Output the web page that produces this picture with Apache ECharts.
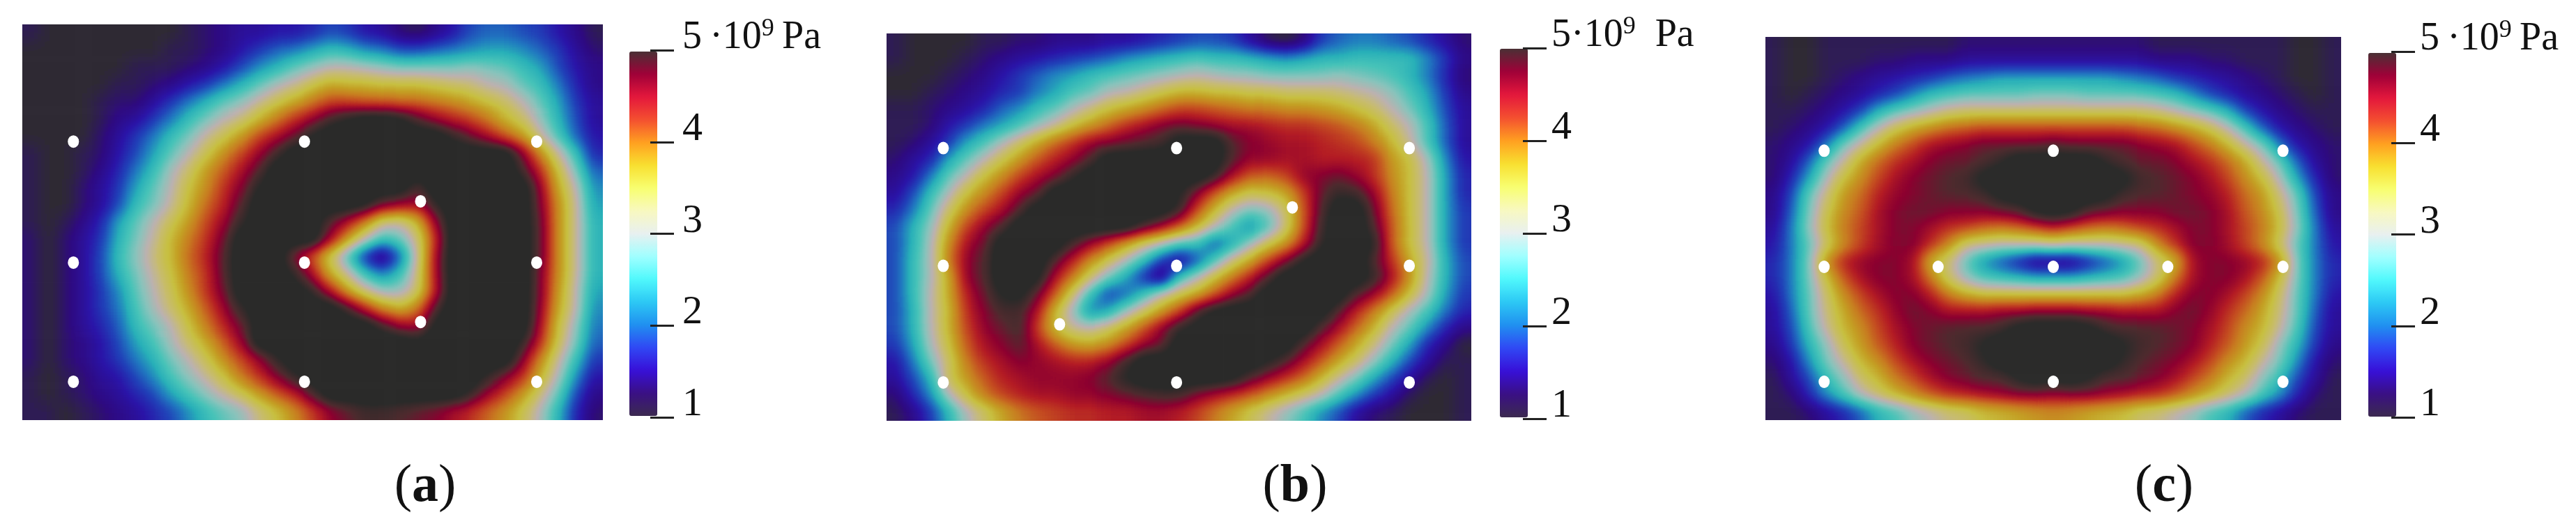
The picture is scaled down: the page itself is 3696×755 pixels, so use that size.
<!DOCTYPE html>
<html><head><meta charset="utf-8">
<style>
html,body{margin:0;padding:0;background:#fff;width:3696px;height:755px;overflow:hidden}
.clip{position:absolute;overflow:hidden}
.heat{position:absolute;filter:url(#fieldFilter)}
#over{position:absolute;left:0;top:0;width:3696px;height:755px}
</style>
<script src="https://cdn.jsdelivr.net/npm/echarts@6/dist/echarts.min.js"></script>
</head><body>
<svg width="0" height="0" style="position:absolute"><defs>
<filter id="fieldFilter" color-interpolation-filters="sRGB" x="0" y="0" width="100%" height="100%">
<feGaussianBlur stdDeviation="11"/>
<feComponentTransfer><feFuncR id="fR" type="table"/><feFuncG id="fG" type="table"/><feFuncB id="fB" type="table"/></feComponentTransfer>
</filter></defs></svg>
<div id="root"></div>
<div id="over"></div>
<script>
// Stress, in units of 10^8 Pa (55 = saturated plateau above 5*10^9 Pa)
const stressA = [
[11,10,10,10,10,10,10,10,10,11,12,13,14,14,15,15,16,18,17,15,14,12,11,13,15,18,19,19,18,17,15,13,11],
[10,10,10,10,10,10,10,10,11,11,12,13,15,17,19,20,22,24,23,21,20,18,18,19,20,21,22,22,21,19,17,14,12],
[10,10,10,10,10,10,11,11,11,12,13,15,18,21,23,26,28,30,30,29,28,27,27,27,27,28,27,26,24,22,18,15,13],
[10,10,10,10,10,11,11,12,13,15,17,20,23,26,29,31,34,37,36,36,35,35,35,34,33,32,30,29,26,24,20,16,13],
[10,10,10,10,11,12,12,14,17,20,23,26,28,31,34,37,40,43,43,42,42,41,41,40,39,37,35,33,30,26,22,17,14],
[10,10,10,10,11,13,14,17,20,24,27,30,32,36,40,44,47,51,53,55,55,54,50,47,45,43,40,36,33,28,23,18,14],
[10,10,10,10,12,14,17,20,24,27,31,34,38,43,46,49,53,55,55,55,55,55,55,55,52,49,46,42,38,31,25,19,15],
[11,10,10,11,12,15,18,22,26,30,34,39,43,47,51,55,55,55,55,55,55,55,55,55,55,55,55,55,48,39,31,24,16],
[11,10,10,11,13,16,20,24,29,33,38,42,46,50,55,55,55,55,55,55,55,55,55,55,55,55,55,55,51,44,35,27,19],
[11,10,10,12,14,17,22,26,30,35,39,44,48,53,55,55,55,55,55,55,55,55,50,55,55,55,55,55,55,47,37,30,21],
[11,10,10,12,14,18,24,27,31,36,41,45,50,55,55,55,55,55,55,54,49,47,46,52,55,55,55,55,55,48,39,31,22],
[11,10,11,13,16,22,26,30,34,38,43,47,52,55,55,55,55,50,46,40,32,31,36,47,55,55,55,55,55,49,39,31,23],
[12,10,12,14,17,23,27,31,36,40,44,49,55,55,55,55,55,47,38,30,24,26,32,44,55,55,55,55,55,49,39,31,23],
[12,10,12,14,18,24,28,32,36,41,45,50,55,55,55,48,42,34,25,16,11,19,31,46,55,55,55,55,55,49,39,31,23],
[12,10,12,14,18,23,27,31,35,40,44,50,55,55,55,52,46,37,31,24,20,24,32,46,55,55,55,55,55,48,39,31,23],
[12,10,12,14,17,21,26,30,34,39,44,49,55,55,55,55,52,46,38,32,28,28,33,45,55,55,55,55,55,48,38,30,22],
[12,10,12,14,17,20,25,29,33,37,42,47,52,55,55,55,55,55,51,45,39,36,40,50,55,55,55,55,55,47,37,30,21],
[12,10,12,14,16,19,24,27,30,35,40,45,49,55,55,55,55,55,55,55,51,47,46,54,55,55,55,55,55,46,35,28,20],
[12,10,12,13,15,18,22,25,29,33,37,42,47,55,55,55,55,55,55,55,55,55,54,55,55,55,55,55,52,44,34,27,19],
[12,10,12,13,15,17,20,23,27,30,34,39,43,47,52,55,55,55,55,55,55,55,55,55,55,55,55,55,48,39,31,24,17],
[11,10,11,12,14,15,18,21,25,28,31,35,40,44,48,52,55,55,55,55,55,55,55,55,55,55,52,48,44,36,29,21,15],
[11,10,11,12,13,14,16,18,22,25,28,31,34,38,42,45,50,55,55,55,55,55,55,55,55,52,47,43,38,32,26,18,13],
[11,11,10,11,12,13,14,16,18,21,24,26,28,32,35,39,43,47,49,51,51,50,49,48,46,44,41,38,34,29,23,16,12]
];
const stressB = [
[11,10,10,10,10,11,11,12,12,13,13,13,14,14,15,16,17,18,18,17,14,11,10,12,17,19,20,20,19,18,16,14,12],
[11,10,10,10,11,12,13,14,15,16,17,18,19,21,22,23,24,25,24,24,23,22,21,22,23,23,24,24,24,24,21,17,13],
[10,10,10,11,12,13,15,17,19,21,22,24,25,26,27,28,29,30,29,28,28,27,27,27,27,28,27,26,25,23,20,16,12],
[10,10,11,12,13,14,16,17,20,22,25,26,29,30,32,34,36,36,35,35,34,34,33,33,33,32,31,30,28,25,22,17,13],
[11,11,12,13,14,16,19,21,24,26,29,32,35,37,39,41,43,43,42,41,40,40,39,39,38,37,35,33,30,27,23,18,14],
[11,11,12,15,17,20,22,25,28,31,35,38,41,44,46,48,49,48,47,46,46,45,44,44,43,42,40,37,33,30,25,19,14],
[11,12,14,17,22,25,29,33,37,41,44,47,48,49,50,51,55,55,55,50,48,47,46,46,45,44,43,40,36,31,25,19,14],
[12,14,16,22,26,30,34,38,42,45,47,50,55,55,55,55,55,55,55,50,47,47,46,46,45,45,45,44,38,35,29,21,15],
[13,15,20,26,30,35,39,43,46,48,52,55,55,55,55,55,55,55,52,46,42,41,43,47,48,49,47,44,39,35,30,22,16],
[14,18,24,29,35,39,43,47,49,55,55,55,55,55,55,55,53,48,42,37,34,35,37,43,49,52,51,47,40,35,30,22,16],
[16,20,26,33,39,43,46,50,55,55,55,55,55,55,55,55,52,43,36,30,27,28,33,42,50,55,55,49,41,35,30,22,17],
[18,23,28,36,43,47,50,55,55,55,55,55,55,55,51,47,42,36,30,25,20,25,32,42,51,55,55,50,42,35,30,22,17],
[18,23,29,39,46,49,55,55,55,55,51,47,43,38,33,29,25,24,18,22,28,34,38,45,52,55,55,53,42,35,30,22,17],
[18,24,29,40,47,50,55,55,55,50,45,39,34,29,24,17,13,18,25,32,37,43,48,53,55,55,55,50,44,37,31,23,18],
[18,24,29,37,47,50,55,55,54,46,40,33,27,22,16,11,24,29,35,40,45,50,55,55,55,55,55,52,46,39,30,23,18],
[18,24,30,37,45,49,53,54,49,42,33,24,17,19,24,30,34,37,42,47,50,55,55,55,55,55,50,47,42,35,29,22,17],
[18,23,30,36,44,48,51,51,46,36,28,20,22,28,33,38,43,50,54,55,55,55,55,55,55,50,45,40,34,29,25,20,16],
[18,23,30,36,43,47,49,51,43,35,31,30,33,37,42,47,52,54,55,55,55,55,55,55,50,46,41,36,30,26,21,16,13],
[17,22,29,35,42,46,48,50,46,42,38,37,39,43,47,49,55,55,55,55,55,55,55,50,46,42,37,32,27,22,16,13,10],
[15,20,27,33,40,44,46,48,47,46,45,45,47,51,55,55,55,55,55,55,55,53,50,46,42,37,33,28,23,18,14,11,11],
[14,18,23,34,38,42,45,46,47,47,47,48,50,53,55,55,55,55,55,54,50,47,44,41,36,31,27,22,18,14,11,10,11],
[12,16,21,29,35,40,43,45,46,46,47,47,48,49,50,51,51,48,46,44,42,39,36,33,30,25,21,17,14,11,10,10,11],
[11,13,17,23,29,33,37,40,42,43,44,44,45,45,46,46,45,43,40,37,34,31,28,25,21,18,14,12,11,10,10,10,11]
];
const stressC = [
[11,10,10,11,11,11,11,11,11,11,11,12,12,12,12,12,12,12,12,12,12,12,11,11,11,11,11,11,11,11,10,10,11],
[11,10,10,11,11,11,12,12,13,13,13,14,14,14,14,14,14,14,14,14,14,14,13,13,13,12,12,11,11,11,10,10,11],
[11,10,10,11,12,13,14,15,16,17,19,20,21,22,22,22,22,22,22,22,21,20,19,17,16,15,14,13,12,11,10,10,11],
[11,10,11,12,13,14,16,18,21,24,25,26,26,26,26,27,27,27,26,26,26,26,25,24,21,18,16,14,13,12,11,10,11],
[11,11,12,13,15,18,23,26,28,30,32,33,33,33,33,33,33,33,33,33,33,33,32,30,28,26,23,18,15,13,12,11,11],
[11,12,13,15,19,25,30,34,37,39,41,42,43,43,43,43,43,43,43,43,43,42,41,39,37,34,30,25,19,15,13,12,11],
[12,13,15,20,27,31,36,40,43,46,47,48,49,49,49,49,50,49,49,49,49,48,47,46,43,40,36,31,27,20,15,13,12],
[12,14,19,26,31,37,41,44,46,48,49,49,50,52,55,55,55,55,55,52,50,49,49,48,46,44,41,37,31,26,19,14,12],
[12,16,22,29,35,39,43,46,48,49,50,51,54,55,55,55,55,55,55,55,54,51,50,49,48,46,43,39,35,29,22,16,12],
[13,18,26,32,38,41,45,47,48,49,50,50,51,54,55,55,55,55,55,54,51,50,50,49,48,47,45,41,38,32,26,18,13],
[13,19,27,34,39,42,46,48,49,49,48,48,48,49,50,54,55,54,50,49,48,48,48,49,49,48,46,42,39,34,27,19,13],
[14,20,28,35,40,43,46,48,48,46,44,43,41,40,41,43,45,43,41,40,41,43,44,46,48,48,46,43,40,35,28,20,14],
[15,20,26,33,39,43,46,48,48,44,39,32,31,30,30,30,31,30,30,30,31,32,39,44,48,48,46,43,39,33,26,20,15],
[16,20,27,39,45,47,48,48,46,36,32,26,21,18,15,12,12,12,15,18,21,26,32,36,46,48,48,47,45,39,27,20,16],
[16,20,27,35,42,46,48,48,46,40,33,28,25,24,23,22,22,22,23,24,25,28,33,40,46,48,48,46,42,35,27,20,16],
[15,20,26,33,39,43,46,48,48,45,40,37,35,35,35,35,35,35,35,35,35,37,40,45,48,48,46,43,39,33,26,20,15],
[14,19,26,32,37,41,44,47,49,48,46,46,46,47,47,48,48,48,47,47,46,46,46,48,49,47,44,41,37,32,26,19,14],
[14,18,25,31,36,39,43,46,48,49,50,50,50,51,54,55,55,55,54,51,50,50,50,49,48,46,43,39,36,31,25,18,14],
[13,17,23,28,34,38,42,45,48,49,50,51,53,55,55,55,55,55,55,55,53,51,50,49,48,45,42,38,34,28,23,17,13],
[12,15,21,27,31,36,39,43,46,48,49,50,52,55,55,55,55,55,55,55,52,50,49,48,46,43,39,36,31,27,21,15,12],
[11,14,18,24,28,33,36,40,43,46,48,49,50,50,53,55,54,55,53,50,50,49,48,46,43,40,36,33,28,24,18,14,11],
[11,12,16,21,25,30,33,36,39,42,44,45,46,47,48,48,47,48,48,47,46,45,44,42,39,36,33,30,25,21,16,12,11],
[11,11,12,14,16,19,23,25,28,30,32,33,35,36,37,38,39,38,37,36,35,33,32,30,28,25,23,19,16,14,12,11,11]
];
// Marker positions (percent of the plate width / height)
const dotsA = [[8.8,29.6],[48.6,29.6],[88.6,29.6],[8.8,60.2],[88.6,60.2],[8.8,90.3],[48.6,90.3],[88.6,90.3],[48.6,60.2],[68.6,44.7],[68.6,75.2]];
const dotsB = [[9.7,29.6],[49.6,29.6],[89.4,29.6],[9.7,60],[89.4,60],[9.7,90.1],[49.6,90.1],[89.4,90.1],[49.6,60],[69.4,44.9],[29.6,75.1]];
const dotsC = [[10.2,29.7],[50,29.7],[89.9,29.7],[10.2,60],[89.9,60],[10.2,90],[50,90],[89.9,90],[50,60],[30,60],[69.9,60]];
const panelNames = ['a','b','c'];
const topLabels = ['{t|5\u2009·10}{s|9}{t|\u2009Pa}','{t|5·10}{s|9}{t|\u2002Pa}','{t|5\u2009·10}{s|9}{t|\u2009Pa}'];
const barColors = ['#3c2a50','#3a1084','#3810d8','#3048f4','#2090f0','#2cc8f4','#50f8fc','#a0ffff','#e8f0f0','#f8f8c0','#f8fe70','#f8e030','#ffa020','#f45030','#e4183c','#a00038','#4a3035'];
const mapColors = ['#2e2a34','#2e0a80','#2a14a8','#2040b8','#2078c0','#28b0b8','#48c4b8','#88c4bc','#bcb2b0','#c8bc70','#c8c040','#c4a024','#c87c20','#c44c20','#b41c24','#8c0030','#4e2a2e','#2b2b29','#2b2b29'];

// Layout
const plates = [
 {x:32,y:35,w:833,h:568,data:stressA,dots:dotsA},
 {x:1272,y:48,w:839,h:556,data:stressB,dots:dotsB},
 {x:2533,y:53,w:826,h:550,data:stressC,dots:dotsC}
];
const bars = [
 {x:903,top:74,bot:597,t5:72,t1:599,tickLeft:933,margin:46},
 {x:2152,top:70,bot:599,t5:69,t1:601,tickLeft:2185,margin:41},
 {x:3398,top:76,bot:598,t5:74,t1:599,tickLeft:3431,margin:41}
];
const captions = [605,1853,3100];
const PAD = 3, COLS = 33, ROWS = 23;

// colour ramp applied to the value-encoded cells after smoothing
const hex = c => [1,3,5].map(i=>parseInt(c.substr(i,2),16)/255);
[0,1,2].forEach(ch=>{
  document.getElementById(['fR','fG','fB'][ch]).setAttribute('tableValues',mapColors.map(c=>hex(c)[ch].toFixed(4)).join(' '));
});

const root = document.getElementById('root');
plates.forEach(p=>{
  const cw=p.w/COLS, ch=p.h/ROWS;
  const clip=document.createElement('div');
  clip.className='clip';
  clip.style.cssText=`left:${p.x}px;top:${p.y}px;width:${p.w}px;height:${p.h}px`;
  const d=document.createElement('div');
  d.className='heat';
  const W=Math.round(cw*(COLS+2*PAD)), H=Math.round(ch*(ROWS+2*PAD));
  d.style.cssText=`left:${-cw*PAD}px;top:${-ch*PAD}px;width:${W}px;height:${H}px`;
  clip.appendChild(d); root.appendChild(clip);
  const xs=[],ys=[],items=[];
  for(let i=-PAD;i<COLS+PAD;i++)xs.push(String(i));
  for(let j=-PAD;j<ROWS+PAD;j++)ys.push(String(j));
  for(let j=-PAD;j<ROWS+PAD;j++)for(let i=-PAD;i<COLS+PAD;i++){
    const r=p.data[Math.min(ROWS-1,Math.max(0,j))];
    items.push([i+PAD,j+PAD,r[Math.min(COLS-1,Math.max(0,i))]/10]);
  }
  const c=echarts.init(d,null,{renderer:'canvas'});
  c.setOption({animation:false,
    grid:{left:0,right:0,top:0,bottom:0},
    xAxis:{type:'category',data:xs,show:false},
    yAxis:{type:'category',data:ys,show:false,inverse:true},
    visualMap:{show:false,min:1,max:5.5,inRange:{color:['#000000','#ffffff']}},
    series:[{type:'heatmap',data:items,progressive:0,itemStyle:{borderWidth:0}}]
  });
});

// overlay: dots, colour bars, ticks, captions
const over=echarts.init(document.getElementById('over'),null,{renderer:'canvas'});
const grids=[],xA=[],yA=[],series=[],vms=[],titles=[];
const serif='"Liberation Serif","Times New Roman",serif';
plates.forEach((p,k)=>{
  grids.push({left:p.x,top:p.y,width:p.w,height:p.h});
  xA.push({type:'value',gridIndex:grids.length-1,min:0,max:100,show:false});
  yA.push({type:'value',gridIndex:grids.length-1,min:0,max:100,show:false,inverse:true});
  series.push({type:'scatter',xAxisIndex:grids.length-1,yAxisIndex:grids.length-1,data:p.dots,symbol:'circle',symbolSize:[16,18],itemStyle:{color:'#fff',opacity:1},silent:true,z:5});
});
bars.forEach((b,k)=>{
  grids.push({left:b.x,top:b.t5,width:b.tickLeft-b.x,height:b.t1-b.t5});
  xA.push({type:'value',gridIndex:grids.length-1,show:false,min:0,max:1});
  yA.push({type:'value',gridIndex:grids.length-1,position:'right',min:1,max:5,interval:1,z:8,
    axisLine:{show:false,onZero:false},splitLine:{show:false},
    axisTick:{show:true,length:34,lineStyle:{color:'#222',width:3}},
    axisLabel:{margin:b.margin,color:'#111',fontFamily:serif,padding:[0,0,36,0],
      formatter:v=>v===5?topLabels[k]:'{a|'+v+'}',
      rich:{a:{fontFamily:serif,fontSize:58,lineHeight:60,color:'#111'},
            t:{fontFamily:serif,fontSize:56,lineHeight:60,color:'#111'},
            s:{fontFamily:serif,fontSize:36,lineHeight:38,color:'#111',verticalAlign:'top'}}}
  });
  vms.push({type:'continuous',seriesIndex:[],min:1,max:5,show:true,calculable:false,realtime:false,
    left:b.x,top:b.top,padding:0,itemWidth:40,itemHeight:b.bot-b.top,text:null,showLabel:false,
    inRange:{color:barColors},textStyle:{color:'transparent',fontSize:1},hoverLink:false,z:4,
    formatter:()=>''});
});
panelNames.forEach((n,k)=>{
  titles.push({text:'{n|(}{b|'+n+'}{n|)}',left:captions[k],top:656,textAlign:'center',
    textStyle:{rich:{n:{fontFamily:serif,fontSize:76,fontWeight:'normal',color:'#111'},b:{fontFamily:serif,fontSize:76,fontWeight:'bold',color:'#111'}}}});
});
over.setOption({animation:false,title:titles,grid:grids,xAxis:xA,yAxis:yA,series:series,visualMap:vms,tooltip:{show:false}});
</script>
</body></html>
